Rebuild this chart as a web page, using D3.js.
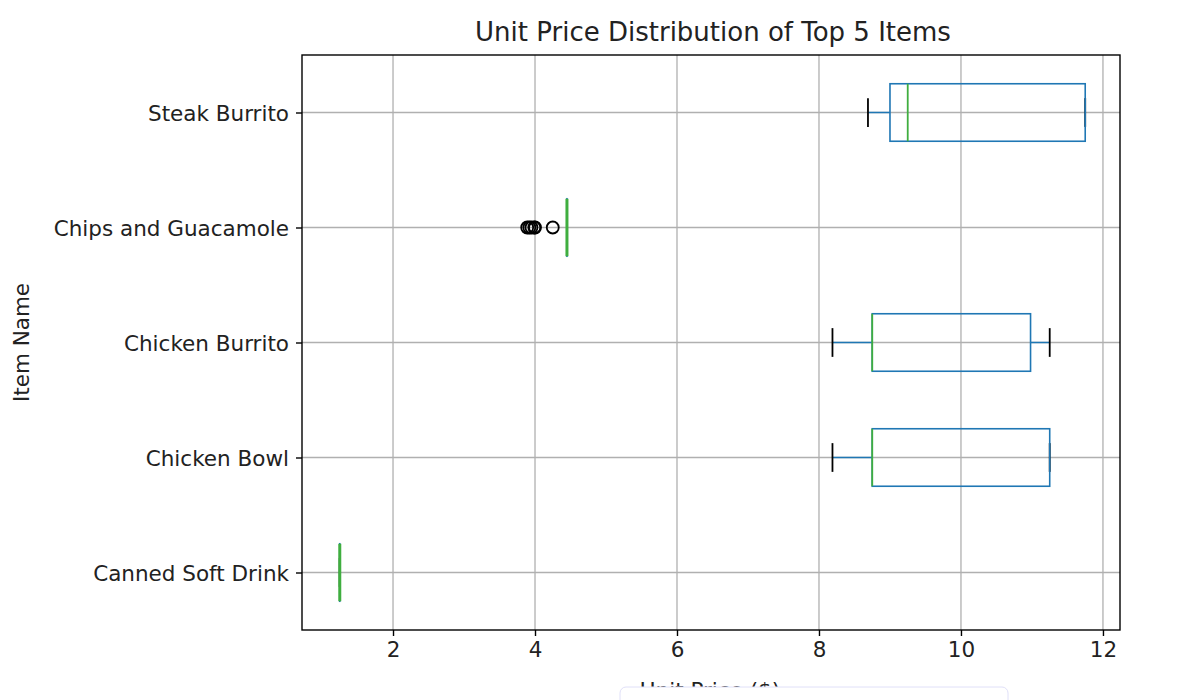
<!DOCTYPE html>
<html><head><meta charset="utf-8">
<script src="https://cdn.jsdelivr.net/npm/d3@7"></script>
<style>body{margin:0;background:#fff;font-family:"DejaVu Sans",sans-serif}</style>
</head><body>
<svg id="c" width="1193" height="700"></svg>
<script>
// bottom to top
const items = ["Canned Soft Drink", "Chicken Bowl", "Chicken Burrito", "Chips and Guacamole", "Steak Burrito"];
const whiskLo = [1.25, 8.19, 8.19, 4.45, 8.69];
const q1 = [1.25, 8.75, 8.75, 4.45, 9.0];
const med = [1.25, 8.75, 8.75, 4.45, 9.25];
const q3 = [1.25, 11.25, 10.98, 4.45, 11.75];
const whiskHi = [1.25, 11.25, 11.25, 4.45, 11.75];
const outliers = [[], [], [], [3.89, 3.92, 3.95, 3.99, 4.0, 4.25], []];
const xTicks = [2, 4, 6, 8, 10, 12];

const svg = d3.select("#c");
const L = 302, R = 1120, T = 55, B = 630;
const x = d3.scaleLinear().domain([0.718, 12.24]).range([L, R]);
const y = d3.scaleLinear().domain([0.5, 5.5]).range([B, T]);
const step = y(1) - y(2);

// grid
svg.append("g").selectAll("line").data(xTicks).join("line")
  .attr("x1", d => x(d)).attr("x2", d => x(d)).attr("y1", T).attr("y2", B)
  .attr("stroke", "#b0b0b0").attr("stroke-width", 1.3);
svg.append("g").selectAll("line").data(items).join("line")
  .attr("y1", (d, i) => y(i + 1)).attr("y2", (d, i) => y(i + 1)).attr("x1", L).attr("x2", R)
  .attr("stroke", "#b0b0b0").attr("stroke-width", 1.3);

const g = svg.append("g").selectAll("g").data(items).join("g");
const bh = step * 0.5, ch = step * 0.25;
g.each(function(d, i) {
  const s = d3.select(this), cy = y(i + 1);
  s.append("line").attr("x1", x(whiskLo[i])).attr("x2", x(q1[i])).attr("y1", cy).attr("y2", cy).attr("stroke", "#1f77b4").attr("stroke-width", 1.5);
  s.append("line").attr("x1", x(q3[i])).attr("x2", x(whiskHi[i])).attr("y1", cy).attr("y2", cy).attr("stroke", "#1f77b4").attr("stroke-width", 1.5);
  [whiskLo[i], whiskHi[i]].forEach(v => s.append("line").attr("x1", x(v)).attr("x2", x(v))
    .attr("y1", cy - ch / 2).attr("y2", cy + ch / 2).attr("stroke", "#000").attr("stroke-width", 1.8));
  s.append("rect").attr("x", x(q1[i])).attr("y", cy - bh / 2).attr("width", Math.max(0.01, x(q3[i]) - x(q1[i])))
    .attr("height", bh).attr("fill", "none").attr("stroke", "#1f77b4").attr("stroke-width", 1.6);
  s.append("line").attr("x1", x(med[i])).attr("x2", x(med[i])).attr("y1", cy - bh / 2).attr("y2", cy + bh / 2)
    .attr("stroke", "#3fae3f").attr("stroke-width", q1[i] === q3[i] ? 3 : 1.8);
  s.selectAll("circle").data(outliers[i]).join("circle")
    .attr("cx", v => x(v)).attr("cy", cy).attr("r", 6).attr("fill", "none").attr("stroke", "#000").attr("stroke-width", 1.8);
});

// frame
svg.append("rect").attr("x", L).attr("y", T).attr("width", R - L).attr("height", B - T)
  .attr("fill", "none").attr("stroke", "#000").attr("stroke-width", 1.4);

const xa = svg.append("g").attr("transform", `translate(0,${B})`)
  .call(d3.axisBottom(x).tickValues(xTicks).tickSize(6).tickPadding(6));
const ya = svg.append("g").attr("transform", `translate(${L},0)`)
  .call(d3.axisLeft(y).tickValues([1, 2, 3, 4, 5]).tickFormat(d => items[d - 1]).tickSize(6).tickPadding(7));
[xa, ya].forEach(a => {
  a.select(".domain").remove();
  a.selectAll("line").attr("stroke-width", 1.4);
  a.selectAll("text").attr("font-size", 21.5).attr("fill", "#222").attr("font-family", "DejaVu Sans");
});
ya.selectAll("text").attr("dy", "0.35em");

svg.append("text").attr("x", (L + R) / 2 + 2).attr("y", 41).attr("text-anchor", "middle")
  .attr("font-size", 26).attr("fill", "#222").text("Unit Price Distribution of Top 5 Items");
svg.append("text").attr("transform", `translate(29,${(T + B) / 2}) rotate(-90)`).attr("text-anchor", "middle")
  .attr("font-size", 21.5).attr("fill", "#222").text("Item Name");
svg.append("text").attr("x", (L + R) / 2 - 1).attr("y", 698).attr("text-anchor", "middle")
  .attr("font-size", 21.5).attr("fill", "#222").text("Unit Price ($)");
// overlay panel from the screenshot
svg.append("rect").attr("x", 620).attr("y", 687).attr("width", 388).attr("height", 30).attr("rx", 6)
  .attr("fill", "#fff").attr("stroke", "#e0e0f8");
</script>
</body></html>
